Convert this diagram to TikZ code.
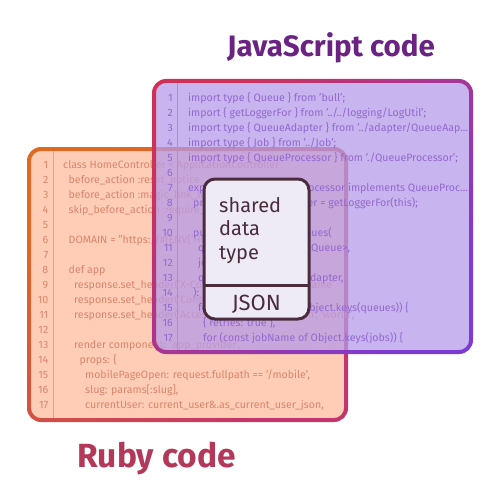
\documentclass[tikz,border=0pt]{standalone}
\usepackage{fontspec}
\setmainfont{Fira Sans}
\definecolor{rubyA}{HTML}{DC6A22}
\definecolor{rubyB}{HTML}{C4346E}
\definecolor{rubyfill}{HTML}{FFCDB6}
\definecolor{rubytext}{HTML}{D8866C}
\definecolor{rubysep}{HTML}{E8A08A}
\definecolor{jsA}{HTML}{CE3158}
\definecolor{jsB}{HTML}{7D3BD2}
\definecolor{jsfill}{HTML}{B59BE8}
\definecolor{jstext}{HTML}{9468D0}
\definecolor{jssep}{HTML}{AE8BDC}
\definecolor{sharedfill}{HTML}{EEEBF7}
\definecolor{sharedline}{HTML}{4A2C3C}
\definecolor{jstitle}{HTML}{6B2383}
\definecolor{rubytitle}{HTML}{B3385A}
\tikzset{
  rcode/.style={anchor=base west, inner sep=0pt, text=rubytext, font=\fontsize{10.6}{12}\selectfont},
  rnum/.style={anchor=base east, inner sep=0pt, text=rubytext, font=\fontsize{10.6}{12}\selectfont},
  jcode/.style={anchor=base west, inner sep=0pt, text=jstext, font=\fontsize{10.6}{12}\selectfont},
  jnum/.style={anchor=base east, inner sep=0pt, text=jstext, font=\fontsize{10.6}{12}\selectfont},
  sharedtxt/.style={anchor=base west, inner sep=0pt, text=sharedline, font=\fontsize{20}{24}\selectfont},
}
\begin{document}
\begin{tikzpicture}[x=1pt,y=-1pt]
\useasboundingbox (0,0) rectangle (500,500);
% ---------- Ruby box ----------
\fill[rubyfill, rounded corners=10] (31,151) rectangle (344,418);
\shade[even odd rule, top color=rubyA, bottom color=rubyB, shading angle=45]
  [rounded corners=14] (27,147) rectangle (348,422)
  [rounded corners=10] (31,151) rectangle (344,418);
\draw[rubysep, line width=0.8pt] (53,151) -- (53,418);
\foreach \i in {1,...,17} {
  \node[rnum] (rn\i) at (48.5,{168.8+15*(\i-1)}) {\i};
}
\node[rcode] (r1) at (63,168.8) {class HomeController < ApplicationController};
\node[rcode] (r2) at (68.5,183.8) {before\_action :reset\_notice};
\node[rcode] (r3) at (68.5,198.8) {before\_action :magic\_link\_login};
\node[rcode] (r4) at (68.5,213.8) {skip\_before\_action :require\_login, only: :heartbeat};
\node[rcode] (r6) at (68.5,243.8) {DOMAIN = "https://\#\{ENV['HOST']\}"};
\node[rcode] (r8) at (68.5,273.8) {def app};
\node[rcode] (r9) at (74,288.8) {response.set\_header('X-Content-Type-Options', 'frame'};
\node[rcode] (r10) at (74,303.8) {response.set\_header('Content-Language', 'en')};
\node[rcode] (r11) at (74,318.8) {response.set\_header('Access-Control-Allow-Origin', 'world',};
\node[rcode] (r13) at (74,348.8) {render component: 'app\_provider',};
\node[rcode] (r14) at (79.5,363.8) {props: \{};
\node[rcode] (r15) at (85,378.8) {mobilePageOpen: request.fullpath == '/mobile',};
\node[rcode] (r16) at (85,393.8) {slug: params[:slug],};
\node[rcode] (r17) at (85,408.8) {currentUser: current\_user\&.as\_current\_user\_json,};
% ---------- JS box ----------
\fill[jsfill, fill opacity=0.75, rounded corners=10] (156,83) rectangle (469,350);
\shade[even odd rule, top color=jsA, bottom color=jsB, shading angle=45]
  [rounded corners=14] (152,79) rectangle (473,354)
  [rounded corners=10] (156,83) rectangle (469,350);
\draw[jssep, line width=0.8pt] (177,83) -- (177,350);
\foreach \i in {1,...,17} {
  \node[jnum] (jn\i) at (173,{101.3+15*(\i-1)}) {\i};
}
\node[jcode] (j1) at (188,101.3) {import type \{ Queue \} from 'bull';};
\node[jcode] (j2) at (188,116.3) {import \{ getLoggerFor \} from '../../logging/LogUtil';};
\node[jcode] (j3) at (188,131.3) {import type \{ QueueAdapter \} from '../adapter/QueueAap...};
\node[jcode] (j4) at (188,146.3) {import type \{ Job \} from '../Job';};
\node[jcode] (j5) at (188,161.3) {import type \{ QueueProcessor \} from './QueueProcessor';};
\node[jcode] (j7) at (188,191.3) {export class BullQueueProcessor implements QueueProc...};
\node[jcode] (j8) at (193,206.3) {protected readonly logger = getLoggerFor(this);};
\node[jcode] (j10) at (193,236.3) {public async registerQueues(};
\node[jcode] (j11) at (198,251.3) {queues: Record<string, Queue>,};
\node[jcode] (j12) at (198,266.3) {jobs: Job[],};
\node[jcode] (j13) at (198,281.3) {queueAdapter: QueueAdapter,};
\node[jcode] (j14) at (193,296.3) {): Promise<void> \{};
\node[jcode] (j15) at (198,311.3) {for (const queueId of Object.keys(queues)) \{};
\node[jcode] (j16) at (203,326.3) {\{ retries: true \},};
\node[jcode] (j17) at (203,341.3) {for (const jobName of Object.keys(jobs)) \{};
% ---------- shared box ----------
\draw[sharedline, fill=sharedfill, line width=3pt, rounded corners=11] (204,179) rectangle (309,319);
\draw[sharedline, line width=3pt] (204,285) -- (309,285);
\node[sharedtxt] (s1) at (219,212) {shared};
\node[sharedtxt] (s2) at (219,235.5) {data};
\node[sharedtxt] (s3) at (219,259) {type};
\node[anchor=base, inner sep=0pt, text=sharedline, font=\fontsize{22}{26}\selectfont] (json) at (256.5,310.5) {JSON};
% ---------- titles ----------
\node[anchor=base west, inner sep=0pt, text=jstitle, font=\fontsize{29.5}{34}\selectfont\bfseries] (jst) at (227,57) {JavaScript code};
\node[anchor=base west, inner sep=0pt, text=rubytitle, font=\fontsize{33.5}{40}\selectfont\bfseries] (rbt) at (77,467) {Ruby code};
\end{tikzpicture}
\end{document}
